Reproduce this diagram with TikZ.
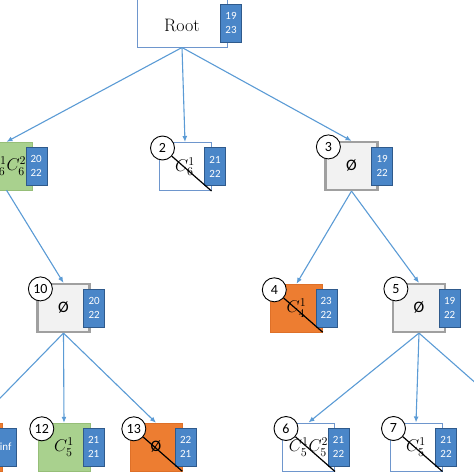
\RequirePackage{fix-cm}
\documentclass[tikz,border=0pt]{standalone}
\usepackage{fontspec}
\setsansfont{Carlito}
\usetikzlibrary{arrows.meta}

\definecolor{edgeblue}{RGB}{91,155,213}
\definecolor{tagblue}{RGB}{74,134,200}
\definecolor{tagline}{RGB}{47,90,140}
\definecolor{boxblue}{RGB}{110,150,205}
\definecolor{boxgrey}{RGB}{160,160,160}
\definecolor{boxfill}{RGB}{242,242,242}
\definecolor{boxorange}{RGB}{237,125,49}
\definecolor{orangeline}{RGB}{222,112,40}
\definecolor{boxgreen}{RGB}{169,209,142}
\definecolor{greenline}{RGB}{150,190,120}

\tikzset{
  box/.style={minimum width=52pt, minimum height=48pt, inner sep=0pt,
    font=\fontsize{17}{20}\selectfont},
  plainbox/.style={box, draw=boxblue, line width=1pt, fill=white},
  greybox/.style={box, draw=boxgrey, line width=2.2pt, fill=boxfill},
  orangebox/.style={box, draw=orangeline, fill=boxorange},
  greenbox/.style={box, draw=greenline, fill=boxgreen},
  tagbox/.style={draw=tagline, fill=tagblue, text=white, minimum width=21pt,
    minimum height=38pt, inner sep=0pt, align=center,
    font=\sffamily\fontsize{11}{14}\selectfont},
  numcirc/.style={circle, draw, fill=white, line width=0.9pt, minimum size=24pt,
    inner sep=0pt, font=\sffamily\fontsize{14}{14}\selectfont},
  edge/.style={-{Latex[length=6pt,width=5pt]}, draw=edgeblue, line width=1.1pt},
  cross/.style={line width=1.2pt, black}
}

\begin{document}
\begin{tikzpicture}[x=1pt, y=-1pt]
  \def\size{474}
  \def\empt{\sffamily\fontsize{16}{18}\selectfont Ø}

  \useasboundingbox (0,0) rectangle (\size,\size);
  \clip (0,0) rectangle (\size,\size);

  \node[plainbox, minimum width=90pt, minimum height=54pt,
    label={[font=\fontsize{18}{20}\selectfont, yshift=-5pt]center:Root}] (root) at (182,20) {};
  \node[tagbox] (root-tag) at ([xshift=3.5pt,yshift=-3pt]root.east) {19\\23};

  \foreach \nm/\x/\y/\kind/\txt/\tg in {
      lft/6.5/166/greenbox/{$C_6^1C_6^2$}/{20\\22},
      n2/185/166.5/plainbox/{$C_6^1$}/{21\\22},
      n3/351.5/166/greybox/{\empt}/{19\\22},
      n10/63.5/308/greybox/{\empt}/{20\\22},
      n4/296.5/308/orangebox/{$C_4^1$}/{23\\22},
      n5/419/308/greybox/{\empt}/{19\\22},
      lfb/-24/447/orangebox/{}/{inf},
      n12/64/447/greenbox/{$C_5^1$}/{21\\21},
      n13/156/447/orangebox/{\empt}/{22\\21},
      n6/308.5/447/plainbox/{$C_5^1C_5^2$}/{21\\22},
      n7/416/447/plainbox/{$C_5^1$}/{21\\22}} {
    \node[\kind] (\nm) at (\x,\y) {\txt};
    \node[tagbox] (\nm-tag) at ([xshift=3.5pt]\nm.east) {\tg};
  }
  \coordinate (rgt) at (521,423);

  \foreach \nm/\num in {n2/2, n3/3, n10/10, n4/4, n5/5, n12/12, n13/13, n6/6, n7/7}
    \node[numcirc] (\nm-num) at ([xshift=4pt,yshift=-6pt]\nm.north west) {\num};

  \foreach \nm in {n2, n4, n13, n6, n7}
    \draw[cross] (\nm-num) -- (\nm.south east);

  \foreach \a/\b in {root/lft, root/n2, root/n3, lft/n10, n10/lfb, n10/n12, n10/n13,
      n3/n4, n3/n5, n5/n6, n5/n7}
    \draw[edge] (\a.south) -- (\b.north);
  \draw[edge] (n5.south) -- (rgt);
\end{tikzpicture}
\end{document}
